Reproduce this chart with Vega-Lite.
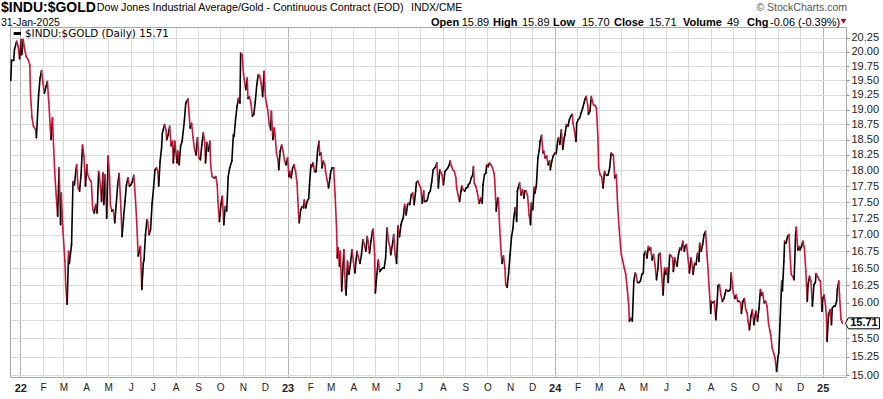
{
"$schema": "https://vega.github.io/schema/vega-lite/v6.json",
"width": 836, "height": 350,
"autosize": {"type": "none"},
"padding": {"left": 10, "top": 27, "right": 37, "bottom": 22},
"background": "white",
"config": {"font": "Liberation Sans", "view": {"stroke": "#a8a8a8", "strokeWidth": 1}},
"resolve": {"axis": {"x": "independent", "y": "independent"}},
"layer": [
{
"data": {"format": {"parse": {"d": "date"}}, "values": [
{"d":"2021-12-19","v":19.50},{"d":"2021-12-20","v":19.85},{"d":"2021-12-23","v":19.85},{"d":"2021-12-24","v":20.04},{"d":"2021-12-27","v":20.19},{"d":"2021-12-29","v":20.10},{"d":"2021-12-31","v":19.88},
{"d":"2022-01-02","v":20.22},{"d":"2022-01-03","v":19.95},{"d":"2022-01-05","v":20.22},{"d":"2022-01-07","v":20.04},{"d":"2022-01-09","v":19.92},{"d":"2022-01-12","v":19.86},{"d":"2022-01-14","v":19.77},{"d":"2022-01-15","v":19.25},{"d":"2022-01-17","v":18.86},{"d":"2022-01-19","v":18.72},{"d":"2022-01-22","v":18.66},{"d":"2022-01-23","v":18.53},{"d":"2022-01-26","v":19.25},{"d":"2022-01-28","v":19.54},{"d":"2022-01-30","v":19.67},
{"d":"2022-02-01","v":19.45},{"d":"2022-02-03","v":19.28},{"d":"2022-02-05","v":19.39},{"d":"2022-02-07","v":19.48},{"d":"2022-02-09","v":19.11},{"d":"2022-02-11","v":18.69},{"d":"2022-02-12","v":18.50},{"d":"2022-02-14","v":18.86},{"d":"2022-02-15","v":18.53},{"d":"2022-02-17","v":17.98},{"d":"2022-02-19","v":17.61},{"d":"2022-02-21","v":17.28},{"d":"2022-02-23","v":18.04},{"d":"2022-02-25","v":17.15},{"d":"2022-02-26","v":17.64},{"d":"2022-02-28","v":17.10},
{"d":"2022-03-03","v":16.60},{"d":"2022-03-04","v":16.26},{"d":"2022-03-06","v":15.98},{"d":"2022-03-08","v":16.75},{"d":"2022-03-09","v":16.57},{"d":"2022-03-12","v":16.85},{"d":"2022-03-14","v":17.82},{"d":"2022-03-16","v":17.77},{"d":"2022-03-18","v":18.01},{"d":"2022-03-19","v":18.09},{"d":"2022-03-21","v":17.72},{"d":"2022-03-23","v":17.67},{"d":"2022-03-25","v":17.93},{"d":"2022-03-27","v":18.41},{"d":"2022-03-29","v":18.23},{"d":"2022-03-31","v":17.75},
{"d":"2022-04-02","v":18.09},{"d":"2022-04-03","v":17.93},{"d":"2022-04-06","v":17.85},{"d":"2022-04-08","v":17.82},{"d":"2022-04-10","v":17.38},{"d":"2022-04-12","v":17.33},{"d":"2022-04-14","v":17.46},{"d":"2022-04-16","v":17.33},{"d":"2022-04-18","v":17.98},{"d":"2022-04-19","v":17.93},{"d":"2022-04-22","v":17.51},{"d":"2022-04-24","v":17.96},{"d":"2022-04-25","v":17.46},{"d":"2022-04-27","v":17.93},{"d":"2022-04-29","v":17.25},
{"d":"2022-05-01","v":18.23},{"d":"2022-05-03","v":17.88},{"d":"2022-05-04","v":17.46},{"d":"2022-05-06","v":17.36},{"d":"2022-05-08","v":17.38},{"d":"2022-05-10","v":17.18},{"d":"2022-05-12","v":17.46},{"d":"2022-05-14","v":17.77},{"d":"2022-05-16","v":17.95},{"d":"2022-05-18","v":17.51},{"d":"2022-05-20","v":16.97},{"d":"2022-05-22","v":17.25},{"d":"2022-05-24","v":17.51},{"d":"2022-05-26","v":17.77},{"d":"2022-05-28","v":17.88},{"d":"2022-05-30","v":17.75},
{"d":"2022-06-01","v":17.77},{"d":"2022-06-03","v":17.82},{"d":"2022-06-05","v":17.92},{"d":"2022-06-07","v":17.61},{"d":"2022-06-09","v":17.20},{"d":"2022-06-11","v":16.68},{"d":"2022-06-13","v":16.77},{"d":"2022-06-14","v":16.82},{"d":"2022-06-16","v":16.19},{"d":"2022-06-18","v":16.57},{"d":"2022-06-19","v":16.62},{"d":"2022-06-21","v":17.00},{"d":"2022-06-23","v":17.23},{"d":"2022-06-24","v":17.20},{"d":"2022-06-26","v":17.00},{"d":"2022-06-28","v":17.08},{"d":"2022-06-30","v":17.48},
{"d":"2022-07-02","v":17.72},{"d":"2022-07-04","v":18.01},{"d":"2022-07-06","v":18.04},{"d":"2022-07-08","v":17.98},{"d":"2022-07-09","v":17.75},{"d":"2022-07-11","v":18.15},{"d":"2022-07-13","v":18.37},{"d":"2022-07-14","v":18.60},{"d":"2022-07-17","v":18.75},{"d":"2022-07-19","v":18.66},{"d":"2022-07-20","v":18.50},{"d":"2022-07-22","v":18.58},{"d":"2022-07-24","v":18.72},{"d":"2022-07-26","v":18.40},{"d":"2022-07-28","v":18.47},{"d":"2022-07-29","v":18.12},{"d":"2022-07-31","v":18.47},
{"d":"2022-08-03","v":18.12},{"d":"2022-08-04","v":18.31},{"d":"2022-08-06","v":18.09},{"d":"2022-08-08","v":18.40},{"d":"2022-08-10","v":18.47},{"d":"2022-08-13","v":18.80},{"d":"2022-08-15","v":19.11},{"d":"2022-08-18","v":19.18},{"d":"2022-08-19","v":19.02},{"d":"2022-08-21","v":18.69},{"d":"2022-08-23","v":18.77},{"d":"2022-08-25","v":18.53},{"d":"2022-08-27","v":18.34},{"d":"2022-08-29","v":18.25},{"d":"2022-08-31","v":18.53},
{"d":"2022-09-02","v":18.20},{"d":"2022-09-04","v":18.17},{"d":"2022-09-06","v":18.42},{"d":"2022-09-08","v":18.61},{"d":"2022-09-10","v":18.45},{"d":"2022-09-11","v":18.12},{"d":"2022-09-13","v":18.45},{"d":"2022-09-15","v":18.31},{"d":"2022-09-17","v":18.47},{"d":"2022-09-18","v":18.09},{"d":"2022-09-20","v":17.90},{"d":"2022-09-23","v":17.88},{"d":"2022-09-25","v":17.90},{"d":"2022-09-27","v":17.77},{"d":"2022-09-28","v":17.51},{"d":"2022-09-30","v":17.20},
{"d":"2022-10-02","v":17.46},{"d":"2022-10-04","v":17.59},{"d":"2022-10-06","v":17.15},{"d":"2022-10-08","v":17.43},{"d":"2022-10-10","v":17.36},{"d":"2022-10-12","v":17.90},{"d":"2022-10-14","v":18.04},{"d":"2022-10-17","v":18.15},{"d":"2022-10-19","v":18.58},{"d":"2022-10-20","v":18.55},{"d":"2022-10-22","v":18.83},{"d":"2022-10-24","v":19.05},{"d":"2022-10-26","v":19.19},{"d":"2022-10-28","v":19.11},{"d":"2022-10-29","v":19.98},{"d":"2022-10-31","v":19.95},
{"d":"2022-11-02","v":19.60},{"d":"2022-11-03","v":19.51},{"d":"2022-11-05","v":19.34},{"d":"2022-11-07","v":19.54},{"d":"2022-11-08","v":19.19},{"d":"2022-11-10","v":19.22},{"d":"2022-11-12","v":19.11},{"d":"2022-11-14","v":18.89},{"d":"2022-11-16","v":18.92},{"d":"2022-11-18","v":19.14},{"d":"2022-11-20","v":19.42},{"d":"2022-11-22","v":19.60},{"d":"2022-11-24","v":19.58},{"d":"2022-11-26","v":19.45},{"d":"2022-11-28","v":19.22},{"d":"2022-11-30","v":19.66},
{"d":"2022-12-02","v":19.19},{"d":"2022-12-04","v":19.05},{"d":"2022-12-05","v":19.00},{"d":"2022-12-07","v":18.75},{"d":"2022-12-09","v":18.66},{"d":"2022-12-10","v":18.97},{"d":"2022-12-12","v":18.50},{"d":"2022-12-14","v":18.69},{"d":"2022-12-15","v":18.58},{"d":"2022-12-17","v":18.28},{"d":"2022-12-19","v":18.17},{"d":"2022-12-20","v":18.01},{"d":"2022-12-22","v":18.31},{"d":"2022-12-24","v":18.41},{"d":"2022-12-26","v":18.31},{"d":"2022-12-28","v":18.15},{"d":"2022-12-30","v":18.09},
{"d":"2023-01-01","v":18.20},{"d":"2023-01-03","v":17.90},{"d":"2023-01-04","v":17.98},{"d":"2023-01-06","v":17.88},{"d":"2023-01-08","v":18.04},{"d":"2023-01-10","v":18.09},{"d":"2023-01-12","v":17.98},{"d":"2023-01-14","v":17.80},{"d":"2023-01-16","v":17.33},{"d":"2023-01-17","v":17.18},{"d":"2023-01-19","v":17.38},{"d":"2023-01-21","v":17.43},{"d":"2023-01-23","v":17.41},{"d":"2023-01-24","v":17.53},{"d":"2023-01-26","v":17.41},{"d":"2023-01-28","v":17.51},{"d":"2023-01-30","v":17.56},{"d":"2023-01-31","v":17.77},
{"d":"2023-02-02","v":18.09},{"d":"2023-02-03","v":18.06},{"d":"2023-02-05","v":18.12},{"d":"2023-02-07","v":17.98},{"d":"2023-02-09","v":17.98},{"d":"2023-02-11","v":18.31},{"d":"2023-02-13","v":18.47},{"d":"2023-02-14","v":18.25},{"d":"2023-02-16","v":18.28},{"d":"2023-02-17","v":18.04},{"d":"2023-02-19","v":18.15},{"d":"2023-02-21","v":18.09},{"d":"2023-02-22","v":17.98},{"d":"2023-02-24","v":17.85},{"d":"2023-02-26","v":17.72},{"d":"2023-02-28","v":17.88},
{"d":"2023-03-01","v":17.98},{"d":"2023-03-03","v":18.04},{"d":"2023-03-05","v":18.04},{"d":"2023-03-07","v":17.61},{"d":"2023-03-09","v":17.10},{"d":"2023-03-10","v":16.65},{"d":"2023-03-11","v":16.80},{"d":"2023-03-13","v":16.53},{"d":"2023-03-14","v":16.75},{"d":"2023-03-16","v":16.17},{"d":"2023-03-19","v":16.77},{"d":"2023-03-21","v":16.21},{"d":"2023-03-22","v":16.11},{"d":"2023-03-24","v":16.60},{"d":"2023-03-26","v":16.41},{"d":"2023-03-28","v":16.57},{"d":"2023-03-30","v":16.77},
{"d":"2023-04-01","v":16.60},{"d":"2023-04-03","v":16.43},{"d":"2023-04-05","v":16.65},{"d":"2023-04-06","v":16.75},{"d":"2023-04-08","v":16.65},{"d":"2023-04-10","v":16.57},{"d":"2023-04-12","v":16.70},{"d":"2023-04-14","v":16.92},{"d":"2023-04-16","v":16.85},{"d":"2023-04-18","v":16.75},{"d":"2023-04-20","v":16.97},{"d":"2023-04-21","v":16.90},{"d":"2023-04-23","v":16.72},{"d":"2023-04-25","v":16.90},{"d":"2023-04-27","v":17.05},{"d":"2023-04-28","v":17.08},{"d":"2023-04-30","v":16.70},
{"d":"2023-05-01","v":16.14},{"d":"2023-05-03","v":16.41},{"d":"2023-05-05","v":16.62},{"d":"2023-05-07","v":16.45},{"d":"2023-05-09","v":16.48},{"d":"2023-05-11","v":16.50},{"d":"2023-05-13","v":16.50},{"d":"2023-05-15","v":16.65},{"d":"2023-05-17","v":17.10},{"d":"2023-05-19","v":16.90},{"d":"2023-05-21","v":16.80},{"d":"2023-05-22","v":16.70},{"d":"2023-05-25","v":16.90},{"d":"2023-05-26","v":17.00},{"d":"2023-05-28","v":16.70},{"d":"2023-05-30","v":16.57},
{"d":"2023-06-01","v":17.13},{"d":"2023-06-03","v":16.97},{"d":"2023-06-05","v":17.15},{"d":"2023-06-06","v":17.20},{"d":"2023-06-08","v":17.25},{"d":"2023-06-10","v":17.46},{"d":"2023-06-12","v":17.30},{"d":"2023-06-14","v":17.46},{"d":"2023-06-15","v":17.48},{"d":"2023-06-17","v":17.46},{"d":"2023-06-19","v":17.61},{"d":"2023-06-21","v":17.64},{"d":"2023-06-23","v":17.46},{"d":"2023-06-25","v":17.67},{"d":"2023-06-26","v":17.80},{"d":"2023-06-28","v":17.83},{"d":"2023-06-30","v":17.77},
{"d":"2023-07-02","v":17.72},{"d":"2023-07-04","v":17.48},{"d":"2023-07-06","v":17.67},{"d":"2023-07-07","v":17.51},{"d":"2023-07-09","v":17.51},{"d":"2023-07-11","v":17.53},{"d":"2023-07-13","v":17.64},{"d":"2023-07-15","v":17.67},{"d":"2023-07-17","v":17.82},{"d":"2023-07-19","v":18.01},{"d":"2023-07-21","v":18.04},{"d":"2023-07-22","v":18.05},{"d":"2023-07-24","v":18.12},{"d":"2023-07-26","v":17.72},{"d":"2023-07-28","v":18.01},{"d":"2023-07-30","v":17.96},{"d":"2023-07-31","v":17.93},
{"d":"2023-08-02","v":17.77},{"d":"2023-08-04","v":17.98},{"d":"2023-08-06","v":18.01},{"d":"2023-08-08","v":18.04},{"d":"2023-08-10","v":18.09},{"d":"2023-08-11","v":18.15},{"d":"2023-08-13","v":18.06},{"d":"2023-08-15","v":18.01},{"d":"2023-08-17","v":17.98},{"d":"2023-08-19","v":17.88},{"d":"2023-08-20","v":17.72},{"d":"2023-08-22","v":17.61},{"d":"2023-08-24","v":17.51},{"d":"2023-08-26","v":17.67},{"d":"2023-08-27","v":17.75},{"d":"2023-08-29","v":17.69},{"d":"2023-08-31","v":17.67},
{"d":"2023-09-02","v":17.72},{"d":"2023-09-04","v":17.73},{"d":"2023-09-05","v":17.77},{"d":"2023-09-07","v":17.80},{"d":"2023-09-09","v":17.88},{"d":"2023-09-11","v":17.93},{"d":"2023-09-12","v":18.06},{"d":"2023-09-13","v":17.80},{"d":"2023-09-15","v":17.75},{"d":"2023-09-17","v":17.67},{"d":"2023-09-19","v":17.53},{"d":"2023-09-20","v":17.48},{"d":"2023-09-22","v":17.56},{"d":"2023-09-24","v":17.48},{"d":"2023-09-25","v":17.77},{"d":"2023-09-27","v":17.93},{"d":"2023-09-29","v":17.96},{"d":"2023-09-30","v":18.09},
{"d":"2023-10-02","v":18.06},{"d":"2023-10-04","v":18.12},{"d":"2023-10-06","v":18.09},{"d":"2023-10-08","v":18.04},{"d":"2023-10-10","v":17.96},{"d":"2023-10-11","v":17.85},{"d":"2023-10-13","v":17.36},{"d":"2023-10-15","v":17.56},{"d":"2023-10-16","v":17.56},{"d":"2023-10-18","v":17.05},{"d":"2023-10-20","v":16.70},{"d":"2023-10-21","v":16.57},{"d":"2023-10-23","v":16.68},{"d":"2023-10-25","v":16.50},{"d":"2023-10-26","v":16.26},{"d":"2023-10-28","v":16.22},{"d":"2023-10-30","v":16.43},
{"d":"2023-11-01","v":16.70},{"d":"2023-11-03","v":16.97},{"d":"2023-11-05","v":17.10},{"d":"2023-11-06","v":17.25},{"d":"2023-11-08","v":17.41},{"d":"2023-11-10","v":17.20},{"d":"2023-11-11","v":17.67},{"d":"2023-11-12","v":17.72},{"d":"2023-11-14","v":17.80},{"d":"2023-11-16","v":17.61},{"d":"2023-11-18","v":17.69},{"d":"2023-11-20","v":17.56},{"d":"2023-11-21","v":17.67},{"d":"2023-11-23","v":17.67},{"d":"2023-11-25","v":17.59},{"d":"2023-11-27","v":17.30},{"d":"2023-11-29","v":17.15},{"d":"2023-11-30","v":17.48},
{"d":"2023-12-02","v":17.38},{"d":"2023-12-04","v":17.73},{"d":"2023-12-05","v":17.64},{"d":"2023-12-07","v":17.77},{"d":"2023-12-09","v":18.20},{"d":"2023-12-11","v":18.34},{"d":"2023-12-12","v":18.47},{"d":"2023-12-14","v":18.57},{"d":"2023-12-16","v":18.28},{"d":"2023-12-17","v":18.31},{"d":"2023-12-19","v":18.20},{"d":"2023-12-21","v":18.23},{"d":"2023-12-23","v":18.09},{"d":"2023-12-25","v":18.15},{"d":"2023-12-26","v":18.01},{"d":"2023-12-28","v":18.15},{"d":"2023-12-30","v":18.23},
{"d":"2024-01-01","v":18.28},{"d":"2024-01-03","v":18.27},{"d":"2024-01-05","v":18.47},{"d":"2024-01-06","v":18.53},{"d":"2024-01-08","v":18.42},{"d":"2024-01-10","v":18.66},{"d":"2024-01-12","v":18.34},{"d":"2024-01-14","v":18.53},{"d":"2024-01-15","v":18.58},{"d":"2024-01-17","v":18.75},{"d":"2024-01-19","v":18.72},{"d":"2024-01-21","v":18.83},{"d":"2024-01-23","v":18.89},{"d":"2024-01-25","v":18.92},{"d":"2024-01-26","v":18.77},{"d":"2024-01-28","v":18.64},{"d":"2024-01-30","v":18.47},{"d":"2024-01-31","v":18.77},
{"d":"2024-02-02","v":18.83},{"d":"2024-02-04","v":18.86},{"d":"2024-02-06","v":18.94},{"d":"2024-02-08","v":19.02},{"d":"2024-02-10","v":19.11},{"d":"2024-02-11","v":19.17},{"d":"2024-02-13","v":19.22},{"d":"2024-02-15","v":19.08},{"d":"2024-02-16","v":18.92},{"d":"2024-02-18","v":18.97},{"d":"2024-02-20","v":19.22},{"d":"2024-02-21","v":19.17},{"d":"2024-02-23","v":19.08},{"d":"2024-02-25","v":19.07},{"d":"2024-02-27","v":19.02},{"d":"2024-02-29","v":18.53},
{"d":"2024-03-01","v":18.04},{"d":"2024-03-03","v":17.93},{"d":"2024-03-05","v":17.90},{"d":"2024-03-07","v":17.72},{"d":"2024-03-09","v":17.98},{"d":"2024-03-11","v":17.93},{"d":"2024-03-12","v":17.92},{"d":"2024-03-14","v":17.93},{"d":"2024-03-16","v":18.04},{"d":"2024-03-18","v":18.28},{"d":"2024-03-20","v":18.25},{"d":"2024-03-21","v":18.25},{"d":"2024-03-23","v":17.88},{"d":"2024-03-25","v":17.93},{"d":"2024-03-27","v":17.43},{"d":"2024-03-29","v":17.10},{"d":"2024-03-31","v":16.80},
{"d":"2024-04-01","v":16.70},{"d":"2024-04-03","v":16.60},{"d":"2024-04-05","v":16.50},{"d":"2024-04-07","v":16.41},{"d":"2024-04-09","v":16.21},{"d":"2024-04-11","v":15.97},{"d":"2024-04-12","v":15.74},{"d":"2024-04-14","v":15.78},{"d":"2024-04-16","v":15.74},{"d":"2024-04-18","v":16.31},{"d":"2024-04-20","v":16.43},{"d":"2024-04-21","v":16.41},{"d":"2024-04-23","v":16.29},{"d":"2024-04-25","v":16.29},{"d":"2024-04-27","v":16.31},{"d":"2024-04-29","v":16.41},
{"d":"2024-05-01","v":16.43},{"d":"2024-05-02","v":16.70},{"d":"2024-05-04","v":16.75},{"d":"2024-05-06","v":16.65},{"d":"2024-05-08","v":16.82},{"d":"2024-05-10","v":16.77},{"d":"2024-05-11","v":16.80},{"d":"2024-05-13","v":16.62},{"d":"2024-05-15","v":16.70},{"d":"2024-05-17","v":16.55},{"d":"2024-05-19","v":16.33},{"d":"2024-05-21","v":16.50},{"d":"2024-05-22","v":16.70},{"d":"2024-05-24","v":16.72},{"d":"2024-05-26","v":16.41},{"d":"2024-05-28","v":16.11},{"d":"2024-05-30","v":16.50},
{"d":"2024-06-01","v":16.41},{"d":"2024-06-02","v":16.50},{"d":"2024-06-04","v":16.29},{"d":"2024-06-06","v":16.70},{"d":"2024-06-08","v":16.68},{"d":"2024-06-10","v":16.65},{"d":"2024-06-11","v":16.45},{"d":"2024-06-13","v":16.65},{"d":"2024-06-16","v":16.53},{"d":"2024-06-18","v":16.70},{"d":"2024-06-20","v":16.80},{"d":"2024-06-22","v":16.77},{"d":"2024-06-24","v":16.90},{"d":"2024-06-26","v":16.75},{"d":"2024-06-27","v":16.82},{"d":"2024-06-29","v":16.85},
{"d":"2024-07-01","v":16.65},{"d":"2024-07-03","v":16.43},{"d":"2024-07-05","v":16.65},{"d":"2024-07-06","v":16.60},{"d":"2024-07-08","v":16.41},{"d":"2024-07-10","v":16.57},{"d":"2024-07-12","v":16.55},{"d":"2024-07-14","v":16.72},{"d":"2024-07-16","v":16.60},{"d":"2024-07-17","v":16.87},{"d":"2024-07-19","v":16.75},{"d":"2024-07-21","v":16.85},{"d":"2024-07-23","v":17.00},{"d":"2024-07-25","v":17.05},{"d":"2024-07-27","v":16.70},{"d":"2024-07-28","v":16.55},{"d":"2024-07-30","v":16.21},
{"d":"2024-08-01","v":15.85},{"d":"2024-08-02","v":16.02},{"d":"2024-08-04","v":16.00},{"d":"2024-08-06","v":16.02},{"d":"2024-08-08","v":15.76},{"d":"2024-08-10","v":16.04},{"d":"2024-08-11","v":16.24},{"d":"2024-08-13","v":16.26},{"d":"2024-08-15","v":16.11},{"d":"2024-08-17","v":16.02},{"d":"2024-08-19","v":16.06},{"d":"2024-08-21","v":16.14},{"d":"2024-08-22","v":16.19},{"d":"2024-08-24","v":16.17},{"d":"2024-08-26","v":16.17},{"d":"2024-08-28","v":16.19},{"d":"2024-08-29","v":16.43},{"d":"2024-08-31","v":16.24},
{"d":"2024-09-01","v":16.14},{"d":"2024-09-03","v":16.06},{"d":"2024-09-05","v":16.11},{"d":"2024-09-07","v":16.02},{"d":"2024-09-09","v":16.02},{"d":"2024-09-11","v":16.00},{"d":"2024-09-12","v":15.85},{"d":"2024-09-14","v":16.02},{"d":"2024-09-16","v":16.06},{"d":"2024-09-18","v":15.90},{"d":"2024-09-20","v":15.85},{"d":"2024-09-21","v":15.74},{"d":"2024-09-23","v":15.62},{"d":"2024-09-25","v":15.81},{"d":"2024-09-27","v":15.90},{"d":"2024-09-29","v":15.69},
{"d":"2024-10-01","v":15.83},{"d":"2024-10-02","v":15.88},{"d":"2024-10-04","v":15.74},{"d":"2024-10-06","v":15.92},{"d":"2024-10-08","v":16.19},{"d":"2024-10-10","v":16.11},{"d":"2024-10-11","v":16.14},{"d":"2024-10-13","v":16.00},{"d":"2024-10-15","v":16.02},{"d":"2024-10-17","v":15.95},{"d":"2024-10-19","v":15.71},{"d":"2024-10-21","v":15.60},{"d":"2024-10-22","v":15.55},{"d":"2024-10-24","v":15.37},{"d":"2024-10-26","v":15.30},{"d":"2024-10-28","v":15.23},{"d":"2024-10-30","v":15.05},
{"d":"2024-11-01","v":15.25},{"d":"2024-11-02","v":15.30},{"d":"2024-11-04","v":15.78},{"d":"2024-11-06","v":16.31},{"d":"2024-11-07","v":16.17},{"d":"2024-11-09","v":16.60},{"d":"2024-11-10","v":16.90},{"d":"2024-11-12","v":16.87},{"d":"2024-11-14","v":16.97},{"d":"2024-11-16","v":17.00},{"d":"2024-11-17","v":16.77},{"d":"2024-11-19","v":16.41},{"d":"2024-11-21","v":16.38},{"d":"2024-11-23","v":16.33},{"d":"2024-11-25","v":17.00},{"d":"2024-11-26","v":17.11},{"d":"2024-11-28","v":16.77},{"d":"2024-11-30","v":16.82},
{"d":"2024-12-01","v":16.77},{"d":"2024-12-03","v":16.82},{"d":"2024-12-05","v":16.90},{"d":"2024-12-07","v":16.80},{"d":"2024-12-09","v":16.45},{"d":"2024-12-11","v":16.02},{"d":"2024-12-12","v":16.26},{"d":"2024-12-14","v":16.38},{"d":"2024-12-16","v":16.31},{"d":"2024-12-18","v":15.95},{"d":"2024-12-20","v":16.26},{"d":"2024-12-22","v":16.29},{"d":"2024-12-23","v":16.42},{"d":"2024-12-25","v":16.38},{"d":"2024-12-27","v":16.33},{"d":"2024-12-29","v":16.31},{"d":"2024-12-31","v":15.88},
{"d":"2025-01-01","v":16.06},{"d":"2025-01-03","v":16.11},{"d":"2025-01-05","v":15.95},{"d":"2025-01-06","v":15.83},{"d":"2025-01-07","v":15.46},{"d":"2025-01-09","v":15.83},{"d":"2025-01-11","v":15.90},{"d":"2025-01-13","v":15.69},{"d":"2025-01-14","v":15.92},{"d":"2025-01-16","v":15.95},{"d":"2025-01-18","v":15.95},{"d":"2025-01-20","v":16.02},{"d":"2025-01-21","v":16.19},{"d":"2025-01-23","v":16.31},{"d":"2025-01-24","v":16.11},{"d":"2025-01-26","v":15.77},{"d":"2025-01-28","v":15.71}
]},
"transform": [
{"window": [{"op": "lag", "field": "v", "as": "pv"}, {"op": "lag", "field": "d", "as": "pd"}], "sort": [{"field": "d", "order": "ascending"}]},
{"filter": "datum.pv != null"}
],
"mark": {"type": "rule", "strokeWidth": 1.6, "strokeCap": "round"},
"encoding": {
"x": {"field": "pd", "type": "temporal",
"scale": {"type": "utc", "domain": [{"year": 2021, "month": 12, "date": 17, "hours": 22, "minutes": 20, "utc": true}, {"year": 2025, "month": 2, "date": 1, "hours": 20, "minutes": 24, "utc": true}]},
"axis": {"title": null, "domain": false, "ticks": false, "labelPadding": 5, "labelFlush": false, "labelOverlap": false, "labelColor": "#222",
"values": [{"year":2022,"month":1,"date":1,"utc":true},{"year":2022,"month":2,"date":1,"utc":true},{"year":2022,"month":3,"date":1,"utc":true},{"year":2022,"month":4,"date":1,"utc":true},{"year":2022,"month":5,"date":1,"utc":true},{"year":2022,"month":6,"date":1,"utc":true},{"year":2022,"month":7,"date":1,"utc":true},{"year":2022,"month":8,"date":1,"utc":true},{"year":2022,"month":9,"date":1,"utc":true},{"year":2022,"month":10,"date":1,"utc":true},{"year":2022,"month":11,"date":1,"utc":true},{"year":2022,"month":12,"date":1,"utc":true},
{"year":2023,"month":1,"date":1,"utc":true},{"year":2023,"month":2,"date":1,"utc":true},{"year":2023,"month":3,"date":1,"utc":true},{"year":2023,"month":4,"date":1,"utc":true},{"year":2023,"month":5,"date":1,"utc":true},{"year":2023,"month":6,"date":1,"utc":true},{"year":2023,"month":7,"date":1,"utc":true},{"year":2023,"month":8,"date":1,"utc":true},{"year":2023,"month":9,"date":1,"utc":true},{"year":2023,"month":10,"date":1,"utc":true},{"year":2023,"month":11,"date":1,"utc":true},{"year":2023,"month":12,"date":1,"utc":true},
{"year":2024,"month":1,"date":1,"utc":true},{"year":2024,"month":2,"date":1,"utc":true},{"year":2024,"month":3,"date":1,"utc":true},{"year":2024,"month":4,"date":1,"utc":true},{"year":2024,"month":5,"date":1,"utc":true},{"year":2024,"month":6,"date":1,"utc":true},{"year":2024,"month":7,"date":1,"utc":true},{"year":2024,"month":8,"date":1,"utc":true},{"year":2024,"month":9,"date":1,"utc":true},{"year":2024,"month":10,"date":1,"utc":true},{"year":2024,"month":11,"date":1,"utc":true},{"year":2024,"month":12,"date":1,"utc":true},
{"year":2025,"month":1,"date":1,"utc":true}],
"labelExpr": "utcmonth(datum.value) == 0 ? utcFormat(datum.value, '%y') : slice(utcFormat(datum.value, '%b'), 0, 1)",
"labelFontWeight": {"condition": {"test": "utcmonth(datum.value) == 0", "value": "bold"}, "value": "normal"},
"labelFontSize": {"condition": {"test": "utcmonth(datum.value) == 0", "value": 11}, "value": 10},
"grid": true,
"gridColor": {"condition": {"test": "utcmonth(datum.value) == 0", "value": "#b4b4b4"}, "value": "#dadada"}}},
"x2": {"field": "d"},
"y": {"field": "pv", "type": "quantitative",
"scale": {"type": "log", "domain": [14.977, 20.449], "nice": false},
"axis": {"orient": "right", "title": null, "domain": false, "tickSize": 3, "tickColor": "#888", "labelPadding": 2, "labelFontSize": 11, "labelColor": "#222", "labelOverlap": false, "labelFlush": false,
"grid": true, "gridColor": "#dadada",
"values": [15, 15.25, 15.5, 15.75, 16, 16.25, 16.5, 16.75, 17, 17.25, 17.5, 17.75, 18, 18.25, 18.5, 18.75, 19, 19.25, 19.5, 19.75, 20, 20.25],
"labelExpr": "datum.value == 15.75 ? '' : format(datum.value, '.2f')"}},
"y2": {"field": "v"},
"color": {"condition": {"test": "datum.v >= datum.pv", "value": "#000000"}, "value": "#d2143a"}
}
},
{"data": {"values": [{}]}, "mark": {"type": "point", "shape": "M3,0L6,-5.5L37,-5.5L37,5.5L6,5.5Z", "size": 4, "filled": true, "fill": "white", "stroke": "black", "strokeWidth": 1, "opacity": 1},
"encoding": {"x": {"datum": {"year": 2025, "month": 1, "date": 28, "utc": true}, "type": "temporal", "axis": null}, "y": {"datum": 15.71, "type": "quantitative", "axis": null}}},
{"data": {"values": [{}]}, "mark": {"type": "text", "text": "15.71", "fontSize": 11, "fontWeight": "bold", "align": "center", "baseline": "middle", "dx": 21.5, "color": "black"},
"encoding": {"x": {"datum": {"year": 2025, "month": 1, "date": 28, "utc": true}, "type": "temporal", "axis": null}, "y": {"datum": 15.71, "type": "quantitative", "axis": null}}},
{"data": {"values": [{}]}, "mark": {"type": "rule", "strokeWidth": 3, "color": "black"},
"encoding": {"x": {"datum": {"year": 2021, "month": 12, "date": 22, "hours": 23, "minutes": 30, "utc": true}, "type": "temporal", "axis": null}, "x2": {"datum": {"year": 2022, "month": 1, "date": 1, "hours": 23, "utc": true}}, "y": {"datum": 20.331, "type": "quantitative", "axis": null}}},
{"data": {"values": [{}]}, "mark": {"type": "text", "text": "$INDU:$GOLD (Daily) 15.71", "font": "DejaVu Sans", "fontSize": 10.4, "align": "left", "baseline": "middle", "color": "black"},
"encoding": {"x": {"datum": {"year": 2022, "month": 1, "date": 7, "hours": 10, "utc": true}, "type": "temporal", "axis": null}, "y": {"datum": 20.325, "type": "quantitative", "axis": null}}},
{"data": {"values": [{}]}, "mark": {"type": "text", "text": "$INDU:$GOLD", "fontSize": 14, "fontWeight": "bold", "align": "left", "baseline": "middle", "color": "black"},
"encoding": {"x": {"datum": {"year": 2021, "month": 12, "date": 5, "hours": 15, "utc": true}, "type": "temporal", "axis": null}, "y": {"datum": 20.789, "type": "quantitative", "axis": null}}},
{"data": {"values": [{}]}, "mark": {"type": "text", "text": "Dow Jones Industrial Average/Gold - Continuous Contract (EOD)", "fontSize": 10.7, "align": "left", "baseline": "middle", "color": "black"},
"encoding": {"x": {"datum": {"year": 2022, "month": 4, "date": 15, "hours": 9, "utc": true}, "type": "temporal", "axis": null}, "y": {"datum": 20.789, "type": "quantitative", "axis": null}}},
{"data": {"values": [{}]}, "mark": {"type": "text", "text": "INDX/CME", "fontSize": 10.5, "align": "left", "baseline": "middle", "color": "black"},
"encoding": {"x": {"datum": {"year": 2023, "month": 6, "date": 18, "hours": 16, "utc": true}, "type": "temporal", "axis": null}, "y": {"datum": 20.789, "type": "quantitative", "axis": null}}},
{"data": {"values": [{}]}, "mark": {"type": "text", "text": "© StockCharts.com", "fontSize": 10.5, "align": "right", "baseline": "middle", "color": "#555"},
"encoding": {"x": {"datum": {"year": 2025, "month": 2, "date": 3, "hours": 5, "utc": true}, "type": "temporal", "axis": null}, "y": {"datum": 20.789, "type": "quantitative", "axis": null}}},
{"data": {"values": [{}]}, "mark": {"type": "text", "text": "31-Jan-2025", "fontSize": 10.5, "align": "left", "baseline": "middle", "color": "black"},
"encoding": {"x": {"datum": {"year": 2021, "month": 12, "date": 5, "hours": 15, "utc": true}, "type": "temporal", "axis": null}, "y": {"datum": 20.52, "type": "quantitative", "axis": null}}},
{"data": {"values": [{}]}, "mark": {"type": "text", "text": "Open", "fontSize": 11, "fontWeight": "bold", "align": "left", "baseline": "middle", "color": "black"},
"encoding": {"x": {"datum": {"year": 2023, "month": 7, "date": 16, "hours": 0, "utc": true}, "type": "temporal", "axis": null}, "y": {"datum": 20.513, "type": "quantitative", "axis": null}}},
{"data": {"values": [{}]}, "mark": {"type": "text", "text": "15.89", "fontSize": 11, "align": "left", "baseline": "middle", "color": "black"},
"encoding": {"x": {"datum": {"year": 2023, "month": 8, "date": 26, "hours": 22, "utc": true}, "type": "temporal", "axis": null}, "y": {"datum": 20.513, "type": "quantitative", "axis": null}}},
{"data": {"values": [{}]}, "mark": {"type": "text", "text": "High", "fontSize": 11, "fontWeight": "bold", "align": "left", "baseline": "middle", "color": "black"},
"encoding": {"x": {"datum": {"year": 2023, "month": 10, "date": 8, "hours": 17, "utc": true}, "type": "temporal", "axis": null}, "y": {"datum": 20.513, "type": "quantitative", "axis": null}}},
{"data": {"values": [{}]}, "mark": {"type": "text", "text": "15.89", "fontSize": 11, "align": "left", "baseline": "middle", "color": "black"},
"encoding": {"x": {"datum": {"year": 2023, "month": 11, "date": 17, "hours": 7, "utc": true}, "type": "temporal", "axis": null}, "y": {"datum": 20.513, "type": "quantitative", "axis": null}}},
{"data": {"values": [{}]}, "mark": {"type": "text", "text": "Low", "fontSize": 11, "fontWeight": "bold", "align": "left", "baseline": "middle", "color": "black"},
"encoding": {"x": {"datum": {"year": 2023, "month": 12, "date": 29, "hours": 14, "utc": true}, "type": "temporal", "axis": null}, "y": {"datum": 20.513, "type": "quantitative", "axis": null}}},
{"data": {"values": [{}]}, "mark": {"type": "text", "text": "15.70", "fontSize": 11, "align": "left", "baseline": "middle", "color": "black"},
"encoding": {"x": {"datum": {"year": 2024, "month": 2, "date": 7, "hours": 5, "utc": true}, "type": "temporal", "axis": null}, "y": {"datum": 20.513, "type": "quantitative", "axis": null}}},
{"data": {"values": [{}]}, "mark": {"type": "text", "text": "Close", "fontSize": 11, "fontWeight": "bold", "align": "left", "baseline": "middle", "color": "black"},
"encoding": {"x": {"datum": {"year": 2024, "month": 3, "date": 21, "hours": 22, "utc": true}, "type": "temporal", "axis": null}, "y": {"datum": 20.513, "type": "quantitative", "axis": null}}},
{"data": {"values": [{}]}, "mark": {"type": "text", "text": "15.71", "fontSize": 11, "align": "left", "baseline": "middle", "color": "black"},
"encoding": {"x": {"datum": {"year": 2024, "month": 5, "date": 8, "hours": 19, "utc": true}, "type": "temporal", "axis": null}, "y": {"datum": 20.513, "type": "quantitative", "axis": null}}},
{"data": {"values": [{}]}, "mark": {"type": "text", "text": "Volume", "fontSize": 11, "fontWeight": "bold", "align": "left", "baseline": "middle", "color": "black"},
"encoding": {"x": {"datum": {"year": 2024, "month": 6, "date": 24, "hours": 5, "utc": true}, "type": "temporal", "axis": null}, "y": {"datum": 20.513, "type": "quantitative", "axis": null}}},
{"data": {"values": [{}]}, "mark": {"type": "text", "text": "49", "fontSize": 11, "align": "left", "baseline": "middle", "color": "black"},
"encoding": {"x": {"datum": {"year": 2024, "month": 8, "date": 23, "hours": 7, "utc": true}, "type": "temporal", "axis": null}, "y": {"datum": 20.513, "type": "quantitative", "axis": null}}},
{"data": {"values": [{}]}, "mark": {"type": "text", "text": "Chg", "fontSize": 11, "fontWeight": "bold", "align": "left", "baseline": "middle", "color": "black"},
"encoding": {"x": {"datum": {"year": 2024, "month": 9, "date": 19, "hours": 14, "utc": true}, "type": "temporal", "axis": null}, "y": {"datum": 20.513, "type": "quantitative", "axis": null}}},
{"data": {"values": [{}]}, "mark": {"type": "text", "text": "-0.06 (-0.39%)", "fontSize": 11, "align": "left", "baseline": "middle", "color": "black"},
"encoding": {"x": {"datum": {"year": 2024, "month": 10, "date": 21, "hours": 0, "utc": true}, "type": "temporal", "axis": null}, "y": {"datum": 20.513, "type": "quantitative", "axis": null}}},
{"data": {"values": [{}]}, "mark": {"type": "point", "shape": "triangle-down", "size": 30, "filled": true, "color": "#b0001e", "opacity": 1},
"encoding": {"x": {"datum": {"year": 2025, "month": 1, "date": 29, "hours": 10, "utc": true}, "type": "temporal", "axis": null}, "y": {"datum": 20.55, "type": "quantitative", "axis": null}}}
]
}
